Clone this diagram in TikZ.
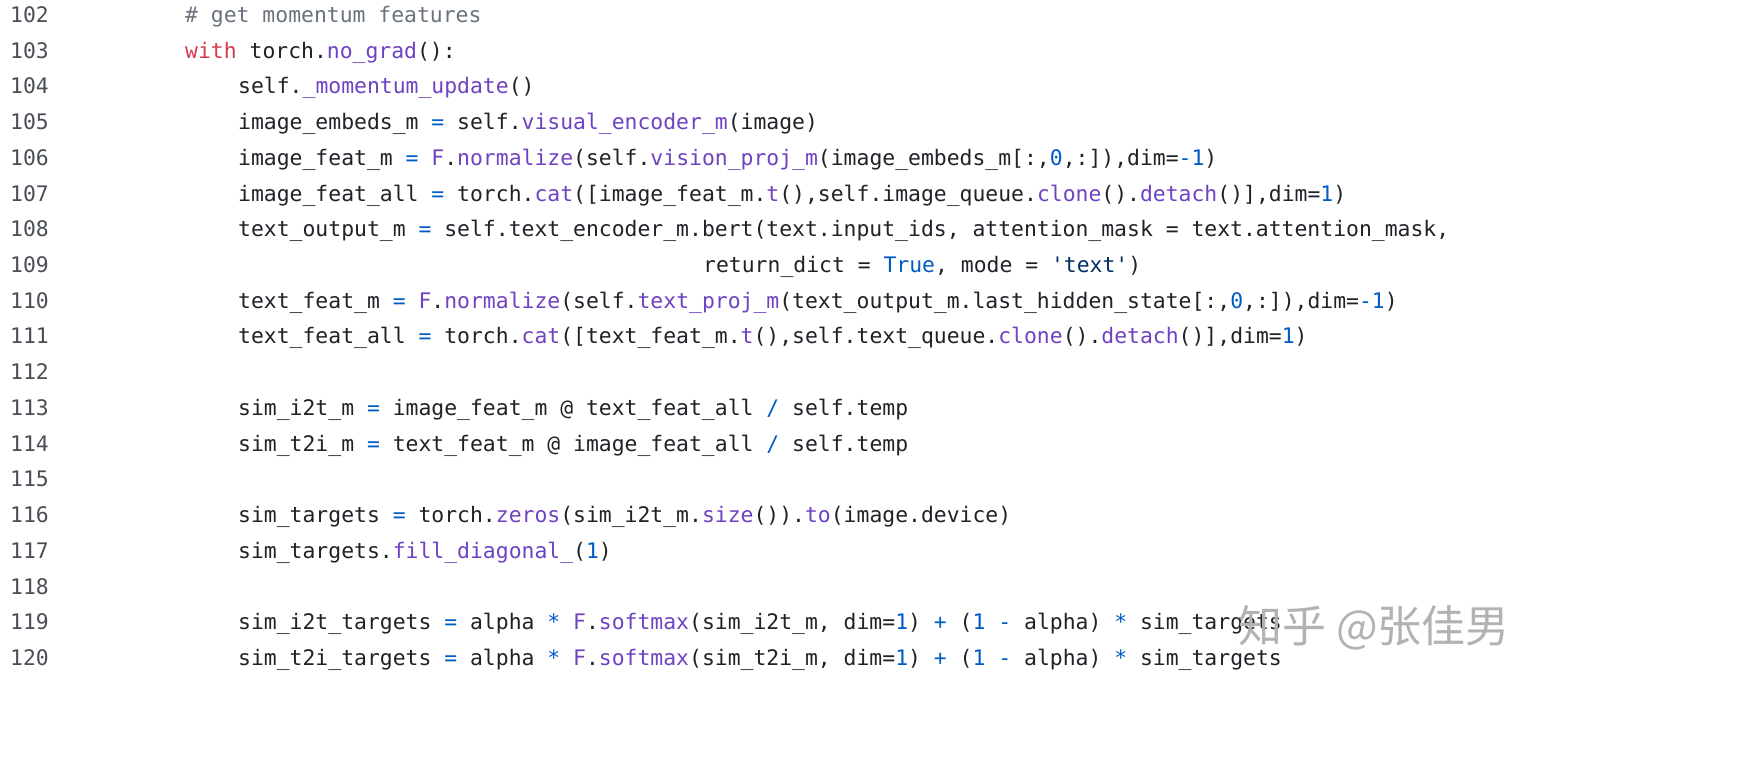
\documentclass[tikz,border=0pt]{standalone}
\usepackage{fontspec}
\setmonofont{DejaVu Sans Mono}
\newfontfamily\cjk{Noto Sans CJK SC}
\definecolor{kwc}{HTML}{D73A49}
\definecolor{fnc}{HTML}{6F42C1}
\definecolor{nmc}{HTML}{005CC5}
\definecolor{stc}{HTML}{032F62}
\definecolor{cmc}{HTML}{6A737D}
\definecolor{txc}{HTML}{1F2328}
\definecolor{lnc}{HTML}{4A4F56}
\newcommand\kw[1]{\textcolor{kwc}{#1}}
\newcommand\fn[1]{\textcolor{fnc}{#1}}
\newcommand\nm[1]{\textcolor{nmc}{#1}}
\newcommand\stq[1]{\textcolor{stc}{#1}}
\newcommand\cmt[1]{\textcolor{cmc}{#1}}
\newcommand\eq{\nm{=}}
\begin{document}
\begin{tikzpicture}[x=1pt,y=-1pt,
  code/.style={anchor=west,inner sep=0pt,font=\ttfamily\fontsize{21.4}{24}\selectfont,text=txc,text height=0.75em,text depth=0.25em},
  ln/.style={code,text=lnc}]
\useasboundingbox[fill=white] (0,0) rectangle (1756,770);
\def\dy{35.72}
\foreach \n [count=\i from 0] in {102,...,120}{
  \node[ln] (n\n) at (10,20+\i*\dy) {\n};
}
\node[code] (l102) at (185,20+0*\dy) {\cmt{\# get momentum features}};
\node[code] (l103) at (185,20+1*\dy) {\kw{with} torch.\fn{no\_grad}():};
\node[code] (l104) at (238,20+2*\dy) {self.\fn{\_momentum\_update}()};
\node[code] (l105) at (238,20+3*\dy) {image\_embeds\_m \eq{} self.\fn{visual\_encoder\_m}(image)};
\node[code] (l106) at (238,20+4*\dy) {image\_feat\_m \eq{} \fn{F}.\fn{normalize}(self.\fn{vision\_proj\_m}(image\_embeds\_m[:,\nm{0},:]),dim=\nm{-1})};
\node[code] (l107) at (238,20+5*\dy) {image\_feat\_all \eq{} torch.\fn{cat}([image\_feat\_m.\fn{t}(),self.image\_queue.\fn{clone}().\fn{detach}()],dim=\nm{1})};
\node[code] (l108) at (238,20+6*\dy) {text\_output\_m \eq{} self.text\_encoder\_m.bert(text.input\_ids, attention\_mask = text.attention\_mask,};
\node[code] (l109) at (703,20+7*\dy) {return\_dict = \nm{True}, mode = \stq{'text'})};
\node[code] (l110) at (238,20+8*\dy) {text\_feat\_m \eq{} \fn{F}.\fn{normalize}(self.\fn{text\_proj\_m}(text\_output\_m.last\_hidden\_state[:,\nm{0},:]),dim=\nm{-1})};
\node[code] (l111) at (238,20+9*\dy) {text\_feat\_all \eq{} torch.\fn{cat}([text\_feat\_m.\fn{t}(),self.text\_queue.\fn{clone}().\fn{detach}()],dim=\nm{1})};
\node[code] (l113) at (238,20+11*\dy) {sim\_i2t\_m \eq{} image\_feat\_m @ text\_feat\_all \nm{/} self.temp};
\node[code] (l114) at (238,20+12*\dy) {sim\_t2i\_m \eq{} text\_feat\_m @ image\_feat\_all \nm{/} self.temp};
\node[code] (l116) at (238,20+14*\dy) {sim\_targets \eq{} torch.\fn{zeros}(sim\_i2t\_m.\fn{size}()).\fn{to}(image.device)};
\node[code] (l117) at (238,20+15*\dy) {sim\_targets.\fn{fill\_diagonal\_}(\nm{1})};
\node[code] (l119) at (238,20+17*\dy) {sim\_i2t\_targets \eq{} alpha \nm{*} \fn{F}.\fn{softmax}(sim\_i2t\_m, dim=\nm{1}) \nm{+} (\nm{1} \nm{-} alpha) \nm{*} sim\_targets};
\node[code] (l120) at (238,20+18*\dy) {sim\_t2i\_targets \eq{} alpha \nm{*} \fn{F}.\fn{softmax}(sim\_t2i\_m, dim=\nm{1}) \nm{+} (\nm{1} \nm{-} alpha) \nm{*} sim\_targets};
\node[anchor=west,inner sep=0pt,text=black!30,font=\cjk\fontsize{44}{50}\selectfont] (wm) at (1238,628) {知乎 @张佳男};
\end{tikzpicture}
\end{document}
